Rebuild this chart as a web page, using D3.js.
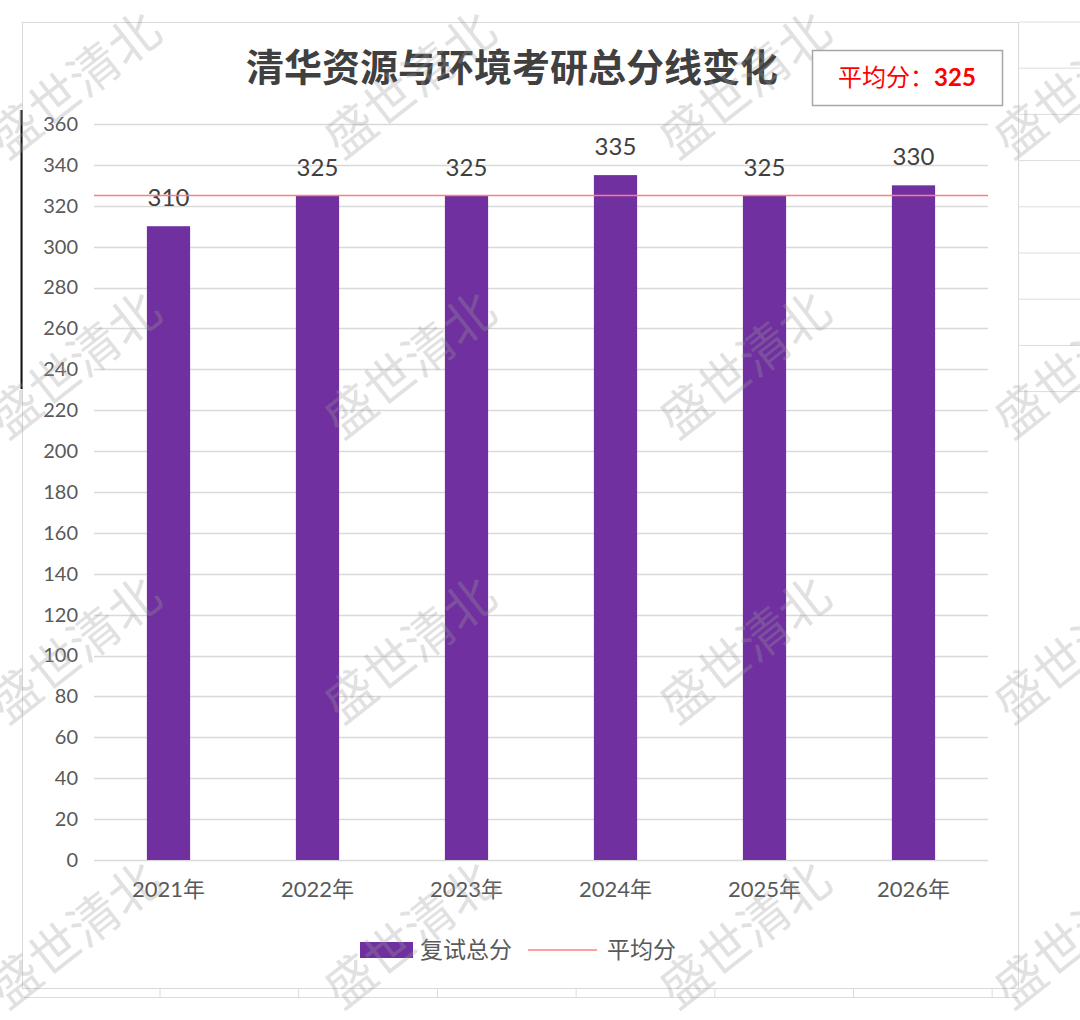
<!DOCTYPE html>
<html>
<head>
<meta charset="utf-8">
<script src="https://cdn.jsdelivr.net/npm/d3@7"></script>
<style>
  body { margin: 0; background: #fff; }
  svg { display: block; }
</style>
</head>
<body>
<svg id="container"></svg>
<script>
// data
const years = ['2021年', '2022年', '2023年', '2024年', '2025年', '2026年'];
const scores = [310, 325, 325, 335, 325, 330];
const average = 325;
const yTicks = d3.range(0, 361, 20);
const title = '清华资源与环境考研总分线变化';
const seriesName = '复试总分';
const avgName = '平均分';
const watermark = '盛世清北';

const W = 1080, H = 1020;
const numFont = "Lato, 'Noto Sans CJK SC', sans-serif";
const cjkFont = "'Noto Sans CJK SC', sans-serif";

const svg = d3.select('#container')
  .attr('width', W)
  .attr('height', H);

// spreadsheet cells around the chart object
const sheet = svg.append('g').attr('stroke', '#dcdcdc').attr('fill', 'none');
d3.range(22, 400, 46.2).forEach(function (y) {
  sheet.append('line').attr('x1', 1019).attr('x2', W).attr('y1', y).attr('y2', y);
});
sheet.append('line').attr('x1', 24).attr('x2', 1018).attr('y1', 988.5).attr('y2', 988.5);
sheet.append('line').attr('x1', 24).attr('x2', 1018).attr('y1', 997.5).attr('y2', 997.5);
d3.range(160, 1000, 138.7).forEach(function (x) {
  sheet.append('line').attr('x1', x).attr('x2', x).attr('y1', 988).attr('y2', 998);
});

// chart frame
svg.append('rect')
  .attr('x', 22.5).attr('y', 22.5)
  .attr('width', 996).attr('height', 966)
  .attr('fill', '#fff')
  .attr('stroke', '#d9d9d9');

svg.append('line')
  .attr('x1', 21.5).attr('x2', 21.5)
  .attr('y1', 110).attr('y2', 389)
  .attr('stroke', '#111').attr('stroke-width', 2);

const x = d3.scaleBand()
  .domain(years)
  .range([94, 988])
  .paddingInner(0.71)
  .paddingOuter(0.355);

const y = d3.scaleLinear()
  .domain([0, 360])
  .range([860, 124]);

// gridlines
svg.append('g')
  .selectAll('line')
  .data(yTicks)
  .join('line')
  .attr('x1', 94).attr('x2', 988)
  .attr('y1', function (d) { return Math.round(y(d)) + 0.5; })
  .attr('y2', function (d) { return Math.round(y(d)) + 0.5; })
  .attr('stroke', '#d9d9d9')
  .attr('stroke-width', 1.5);

// y axis labels
const yAxis = svg.append('g')
  .attr('transform', 'translate(78,0)')
  .call(d3.axisLeft(y).tickValues(yTicks).tickSize(0).tickPadding(0));
yAxis.select('.domain').remove();
yAxis.selectAll('text')
  .attr('font-family', numFont)
  .attr('font-size', 20)
  .attr('fill', '#595959');

// x axis labels
const xAxis = svg.append('g')
  .attr('transform', 'translate(0,860)')
  .call(d3.axisBottom(x).tickSize(0).tickPadding(21));
xAxis.select('.domain').remove();
xAxis.selectAll('text')
  .attr('font-family', numFont)
  .attr('font-size', 22)
  .attr('fill', '#595959');

// bars
svg.append('g')
  .selectAll('rect')
  .data(scores)
  .join('rect')
  .attr('x', function (d, i) { return x(years[i]); })
  .attr('y', function (d) { return y(d); })
  .attr('width', x.bandwidth())
  .attr('height', function (d) { return y(0) - y(d); })
  .attr('fill', '#7030a0');

// value labels
svg.append('g')
  .selectAll('text')
  .data(scores)
  .join('text')
  .attr('x', function (d, i) { return x(years[i]) + x.bandwidth() / 2; })
  .attr('y', function (d) { return y(d) - 20; })
  .attr('text-anchor', 'middle')
  .attr('font-family', numFont)
  .attr('font-size', 24)
  .attr('fill', '#404040')
  .text(function (d) { return d; });

// average line
svg.append('line')
  .attr('x1', 94).attr('x2', 988)
  .attr('y1', y(average)).attr('y2', y(average))
  .attr('stroke', '#ff7c80')
  .attr('stroke-width', 1.5);

// title
svg.append('text')
  .attr('x', 512).attr('y', 81)
  .attr('text-anchor', 'middle')
  .attr('font-family', cjkFont)
  .attr('font-weight', 'bold')
  .attr('font-size', 38)
  .attr('fill', '#404040')
  .text(title);

// average box
svg.append('rect')
  .attr('x', 812.5).attr('y', 50.5)
  .attr('width', 190).attr('height', 55)
  .attr('fill', '#fff')
  .attr('stroke', '#a6a6a6')
  .attr('stroke-width', 1.5);
const avgText = svg.append('text')
  .attr('x', 907).attr('y', 86)
  .attr('text-anchor', 'middle')
  .attr('font-size', 24)
  .attr('fill', '#ff0000');
avgText.append('tspan').attr('font-family', cjkFont).text(avgName + '：');
avgText.append('tspan').attr('font-family', numFont).attr('font-weight', 'bold').text(average);

// legend
const legend = svg.append('g').attr('transform', 'translate(360,950)');
legend.append('rect')
  .attr('x', 0).attr('y', -8)
  .attr('width', 53).attr('height', 16)
  .attr('fill', '#7030a0');
legend.append('text')
  .attr('x', 60).attr('y', 8)
  .attr('font-family', cjkFont)
  .attr('font-size', 23)
  .attr('fill', '#595959')
  .text(seriesName);
legend.append('line')
  .attr('x1', 168).attr('x2', 237)
  .attr('y1', 0).attr('y2', 0)
  .attr('stroke', '#ff7c80')
  .attr('stroke-width', 1.5);
legend.append('text')
  .attr('x', 247).attr('y', 8)
  .attr('font-family', cjkFont)
  .attr('font-size', 23)
  .attr('fill', '#595959')
  .text(avgName);

// watermark
const wmCols = [75, 410, 745, 1080];
const wmRows = [85, 365, 650, 935];
const wm = svg.append('g').attr('pointer-events', 'none');
wmRows.forEach(function (ry) {
  wmCols.forEach(function (cx) {
    wm.append('text')
      .attr('transform', 'translate(' + cx + ',' + ry + ') rotate(-38)')
      .attr('text-anchor', 'middle')
      .attr('dy', '0.35em')
      .attr('font-family', cjkFont)
      .attr('font-size', 50)
      .attr('fill', '#9a9a9a')
      .attr('fill-opacity', 0.3)
      .text(watermark);
  });
});
</script>
</body>
</html>
